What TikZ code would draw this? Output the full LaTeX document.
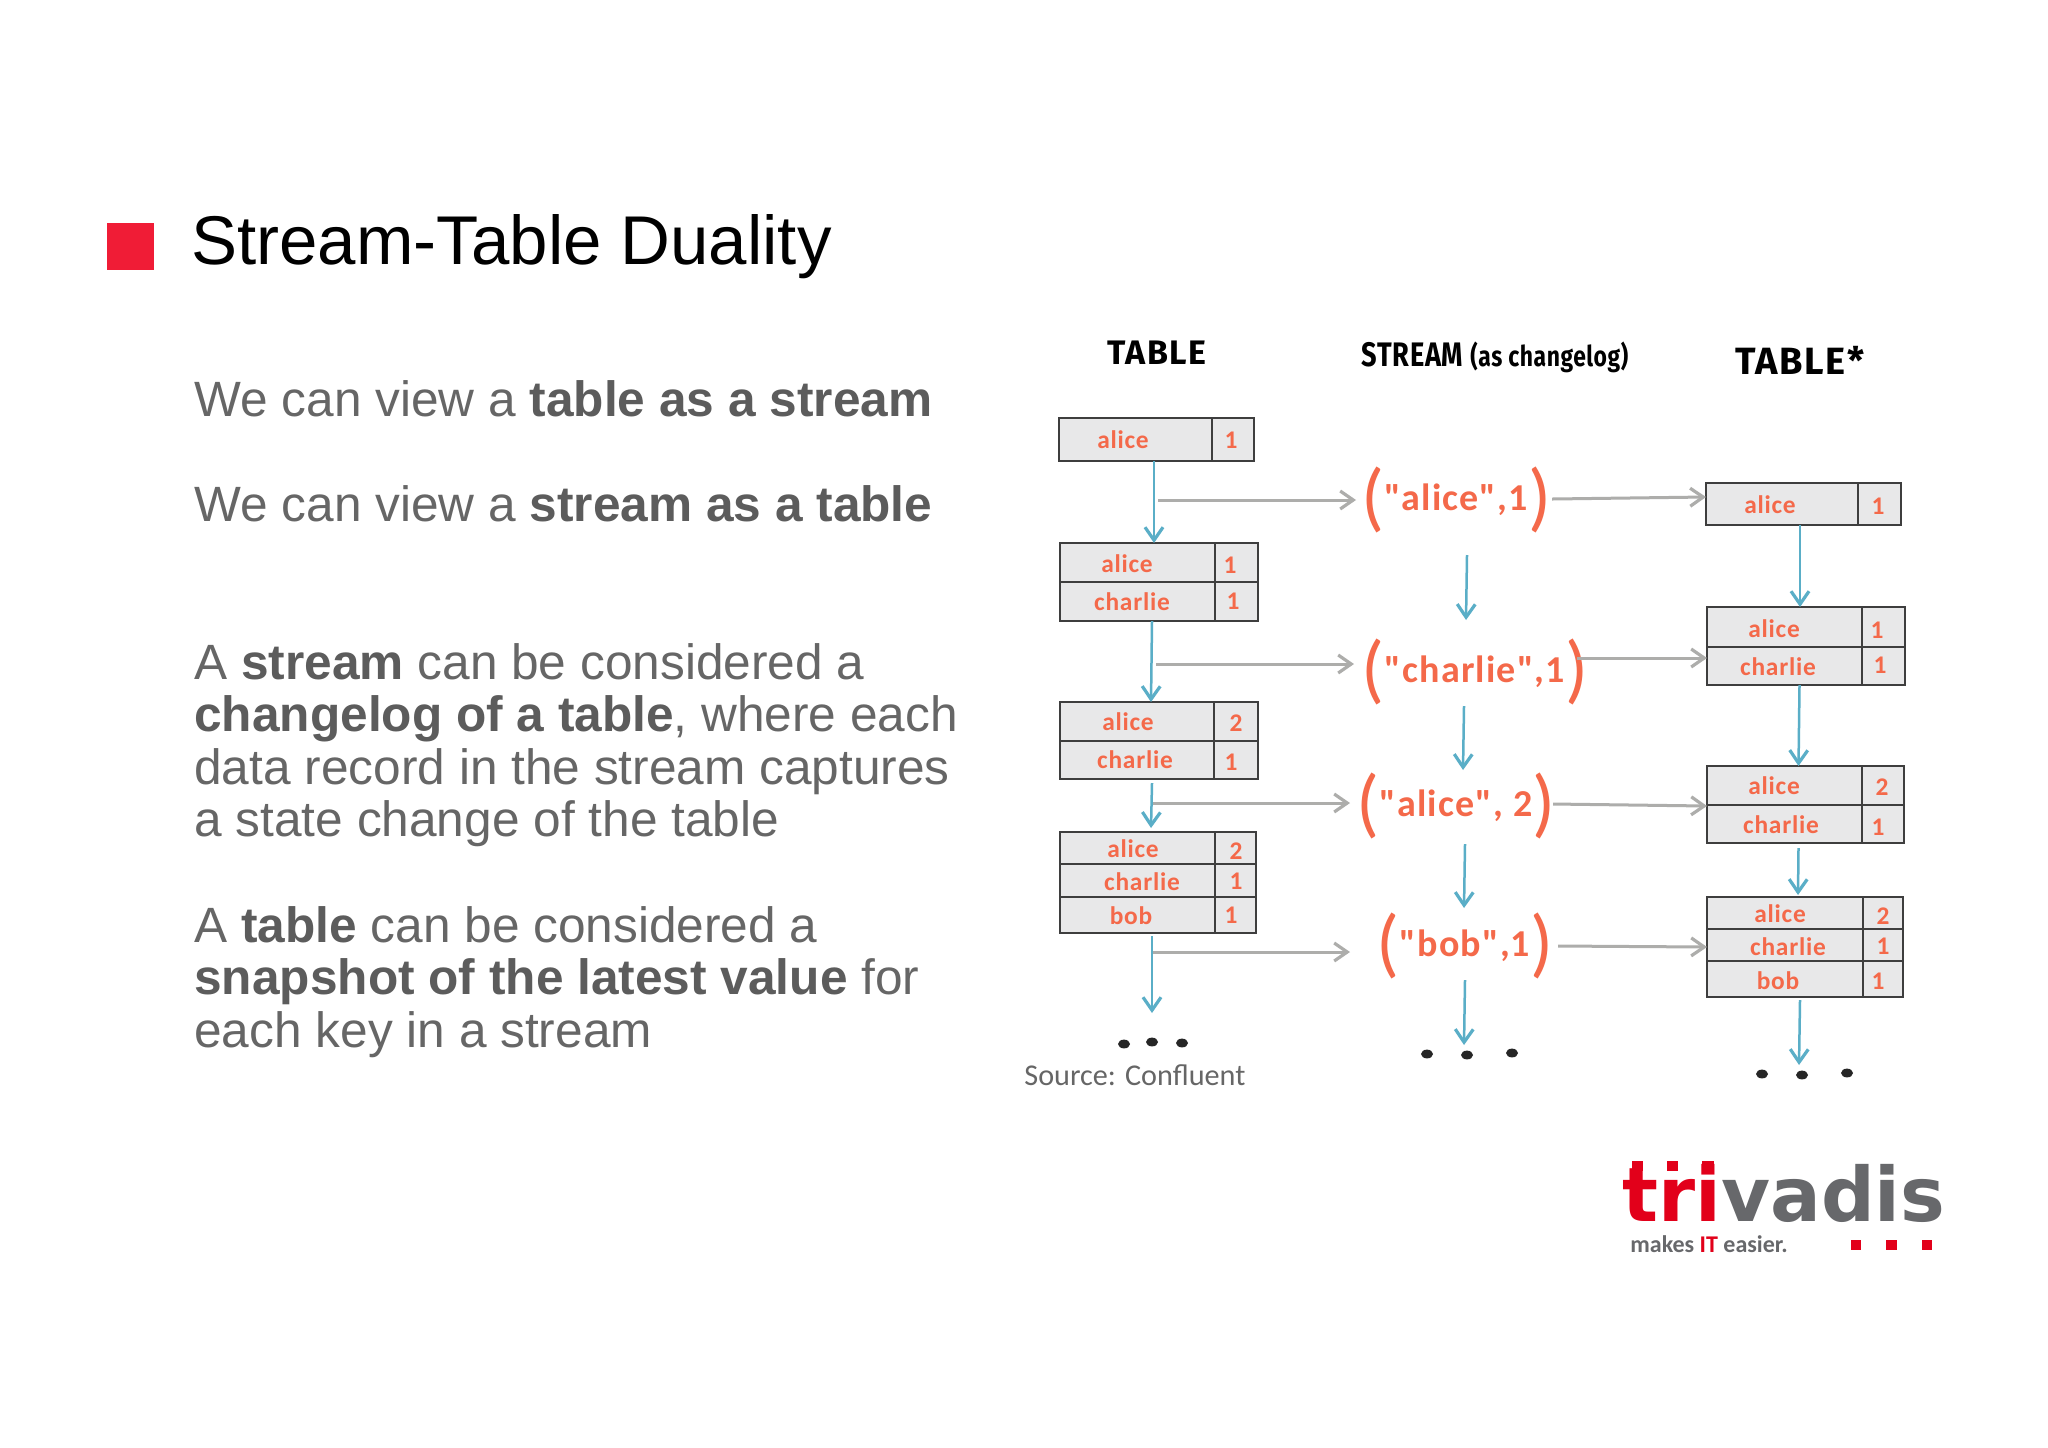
\documentclass[tikz,border=0pt]{standalone}
\usepackage{fontspec}
\setmainfont{Liberation Sans}
\newfontfamily\handfont[LetterSpace=3]{Carlito}
\newfontfamily\headfont[LetterSpace=4]{Fira Sans}
\newfontfamily\streamfont[LetterSpace=2,FakeStretch=0.8]{Fira Sans}
\newfontfamily\sourcefont{Carlito}
\newfontfamily\logofont{DejaVu Sans}
\usetikzlibrary{arrows.meta,fit}
\definecolor{slidered}{HTML}{F01C36}
\definecolor{bodygrey}{HTML}{666666}
\definecolor{boldgrey}{HTML}{5C5C5C}
\definecolor{hand}{HTML}{F4694A}
\definecolor{flow}{HTML}{5AAEC7}
\definecolor{change}{HTML}{ADADAB}
\definecolor{cellfill}{HTML}{E8E8E9}
\definecolor{cellline}{HTML}{3E3E3E}
\definecolor{logored}{HTML}{E2001A}
\definecolor{logogrey}{HTML}{67686B}
\tikzset{
  x=.5pt,y=-.5pt,
  title/.style={anchor=base west,inner sep=0,font=\fontsize{34.5}{38}\selectfont,text=black},
  para/.style={anchor=north west,inner sep=0,align=left,text=bodygrey,font=\fontsize{24.8}{26.25}\selectfont},
  tablebox/.style={draw=cellline,fill=cellfill,line width=1.3pt,inner sep=0,outer sep=0},
  grid/.style={draw=cellline,line width=1.3pt},
  cell/.style={inner sep=0,text=hand,font=\handfont\bfseries\fontsize{12.7}{14}\selectfont},
  event/.style={inner sep=0,outer sep=0,text=hand,font=\handfont\bfseries\fontsize{19}{22}\selectfont},
  head/.style={inner sep=0,text=black,font=\headfont\bfseries\fontsize{17}{20}\selectfont},
  flowarrow/.style={draw=flow,line width=1.25pt,-{Straight Barb[length=6.5pt,width=9pt,line width=1.6pt]}},
  changearrow/.style={draw=change,line width=1.5pt,-{Straight Barb[length=6.5pt,width=9pt,line width=1.6pt]}},
  inkdot/.style={fill=black!85},
}
\newcommand{\tbl}[7]{%
  \node[tablebox,fit={(#2,#3)(#4,#5)}] (#1) {};
  \draw[grid] (#6,#3) -- (#6,#5);
  \foreach \rowy in {#7} {\draw[grid] (#2,\rowy) -- (#4,\rowy);}
}
\newcommand{\cl}[4]{\node[cell] (#1) at (#2,#3) {#4};}
\newcommand{\evt}[1]{{\fontsize{38}{38}\selectfont\mdseries (}\raisebox{6pt}{#1}{\fontsize{38}{38}\selectfont\mdseries )}}
\begin{document}
\begin{tikzpicture}
\useasboundingbox (0,0) rectangle (2048,1447);
\fill[white] (0,0) rectangle (2048,1447);
% heading
\fill[slidered] (107,223) rectangle (154,270);
\node[title] (title) at (191,264) {Stream-Table Duality};
% text
\node[para] (p1) at (194,380.5) {We can view a \textbf{\textcolor{boldgrey}{table as a stream}}};
\node[para] (p2) at (194,485.5) {We can view a \textbf{\textcolor{boldgrey}{stream as a table}}};
\node[para] (p3) at (194,643) {A \textbf{\textcolor{boldgrey}{stream}} can be considered a\\\textbf{\textcolor{boldgrey}{changelog of a table}}, where each\\data record in the stream captures\\a state change of the table};
\node[para] (p4) at (194,906) {A \textbf{\textcolor{boldgrey}{table}} can be considered a\\\textbf{\textcolor{boldgrey}{snapshot of the latest value}} for\\each key in a stream};
% column heads
\node[head] (h1) at (1157,353) {TABLE};
\node[inner sep=0,text=black,font=\streamfont\bfseries\fontsize{17}{18}\selectfont] (h2) at (1495,357) {STREAM {\fontsize{14.3}{16}\selectfont(as changelog)}};
\node[head,font=\headfont\bfseries\fontsize{19}{20}\selectfont] (h3) at (1800,360) {TABLE*};
% left tables
\tbl{t1}{1059}{418}{1254}{461}{1212}{}
\tbl{t2}{1060}{543}{1258}{621}{1215}{582}
\tbl{t3}{1060}{702}{1258}{779}{1214}{741}
\tbl{t4}{1060}{832}{1256}{933}{1215}{864,897}
\cl{t1a}{1123}{440}{alice}\cl{t1av}{1231}{440}{1}
\cl{t2a}{1127}{564}{alice}\cl{t2av}{1230}{565}{1}
\cl{t2c}{1132}{602}{charlie}\cl{t2cv}{1233}{601}{1}
\cl{t3a}{1128}{722}{alice}\cl{t3av}{1236}{723}{2}
\cl{t3c}{1135}{760}{charlie}\cl{t3cv}{1231}{762}{1}
\cl{t4a}{1133}{849}{alice}\cl{t4av}{1236}{851}{2}
\cl{t4c}{1142}{882}{charlie}\cl{t4cv}{1236}{881}{1}
\cl{t4b}{1131}{916}{bob}\cl{t4bv}{1231}{915}{1}
% right tables
\tbl{r1}{1706}{483}{1901}{525}{1858}{}
\tbl{r2}{1707}{607}{1905}{685}{1862}{647}
\tbl{r3}{1707}{766}{1904}{843}{1862}{805}
\tbl{r4}{1707}{897}{1903}{997}{1863}{929,961}
\cl{r1a}{1770}{505}{alice}\cl{r1av}{1878}{506}{1}
\cl{r2a}{1774}{629}{alice}\cl{r2av}{1877}{630}{1}
\cl{r2c}{1778}{667}{charlie}\cl{r2cv}{1880}{665}{1}
\cl{r3a}{1774}{786}{alice}\cl{r3av}{1882}{787}{2}
\cl{r3c}{1781}{825}{charlie}\cl{r3cv}{1878}{827}{1}
\cl{r4a}{1780}{914}{alice}\cl{r4av}{1883}{916}{2}
\cl{r4c}{1788}{947}{charlie}\cl{r4cv}{1883}{946}{1}
\cl{r4b}{1778}{981}{bob}\cl{r4bv}{1878}{981}{1}
% stream events
\node[event] (s1) at (1456,500) {\evt{"alice",1}};
\node[event] (s2) at (1475,672) {\evt{"charlie",1}};
\node[event] (s3) at (1456,806) {\evt{"alice", 2}};
\node[event] (s4) at (1465,946) {\evt{"bob",1}};
% free ends and branch points
\coordinate (tend) at (1152,1013);
\coordinate (send) at (1464,1045);
\coordinate (rend) at (1799,1065);
\coordinate (g1) at (1158,500);
\coordinate (g2) at (1156,664);
\coordinate (g3) at (1153,803);
\coordinate (g4) at (1153,952);
% table flow
\draw[flowarrow] ([xshift=-1.25pt]t1.south) -- ([xshift=-2.5pt]t2.north);
\draw[flowarrow] ([xshift=-3.5pt]t2.south) -- ([xshift=-4pt]t3.north);
\draw[flowarrow] ([shift={(-3.5pt,-2pt)}]t3.south) -- ([xshift=-3.5pt,yshift=2pt]t4.north);
\draw[flowarrow] ([shift={(-3pt,-1.5pt)}]t4.south) -- (tend);
\draw[flowarrow] ([xshift=-1.75pt]r1.south) -- ([xshift=-3pt]r2.north);
\draw[flowarrow] ([xshift=-3.25pt]r2.south) -- ([xshift=-3.5pt]r3.north);
\draw[flowarrow] ([shift={(-3.5pt,-2.5pt)}]r3.south) -- ([xshift=-3.5pt,yshift=1pt]r4.north);
\draw[flowarrow] ([shift={(-2.5pt,-1.5pt)}]r4.south) -- (rend);
% stream flow
\draw[flowarrow] (1467,555) -- (1466,620);
\draw[flowarrow] (1464,706) -- (1463,770);
\draw[flowarrow] (1465,844) -- (1464,908);
\draw[flowarrow] (1465,980) -- (send);
% change arrows
\draw[changearrow] (g1) -- (1356,500);
\draw[changearrow] (g2) -- (1354,664);
\draw[changearrow] (g3) -- (1350,803);
\draw[changearrow] (g4) -- (1350,952);
\draw[changearrow] (1552,499) -- ([yshift=3.5pt]r1.west);
\draw[changearrow] (1577,658) -- ([yshift=-6pt]r2.west);
\draw[changearrow] (1553,804) -- ([yshift=-.75pt]r3.west);
\draw[changearrow] (1558,946) -- (r4.west);
% ink dots
\foreach \dx/\dy in {1124/1044,1152/1042,1182/1043,1427/1054,1467/1055,1512/1053,1762/1074,1802/1075,1847/1073}
  \fill[inkdot] (\dx,\dy) ellipse (3pt and 2.2pt);
% source
\node[anchor=base west,inner sep=0,text=bodygrey,font=\sourcefont\fontsize{15.1}{16}\selectfont] (src) at (1024,1085) {Source: Confluent};
% logo
\node[anchor=base west,inner sep=0,font=\logofont\bfseries\fontsize{37.6}{40}\selectfont] (logo) at (1622,1221) {\textcolor{logored}{tri}\textcolor{logogrey}{vadis}};
\fill[logored] (1632,1161) rectangle (1643,1171);
\fill[logored] (1667,1161) rectangle (1678,1171);
\fill[logored] (1702,1161) rectangle (1714,1171);
\node[anchor=base west,inner sep=0,text=logogrey,font=\sourcefont\bfseries\fontsize{12}{14}\selectfont] (tag) at (1630,1252) {makes \textcolor{logored}{IT} easier.};
\fill[logored] (1851,1240) rectangle (1861,1250);
\fill[logored] (1886,1240) rectangle (1897,1250);
\fill[logored] (1922,1240) rectangle (1932,1250);
\end{tikzpicture}
\end{document}
